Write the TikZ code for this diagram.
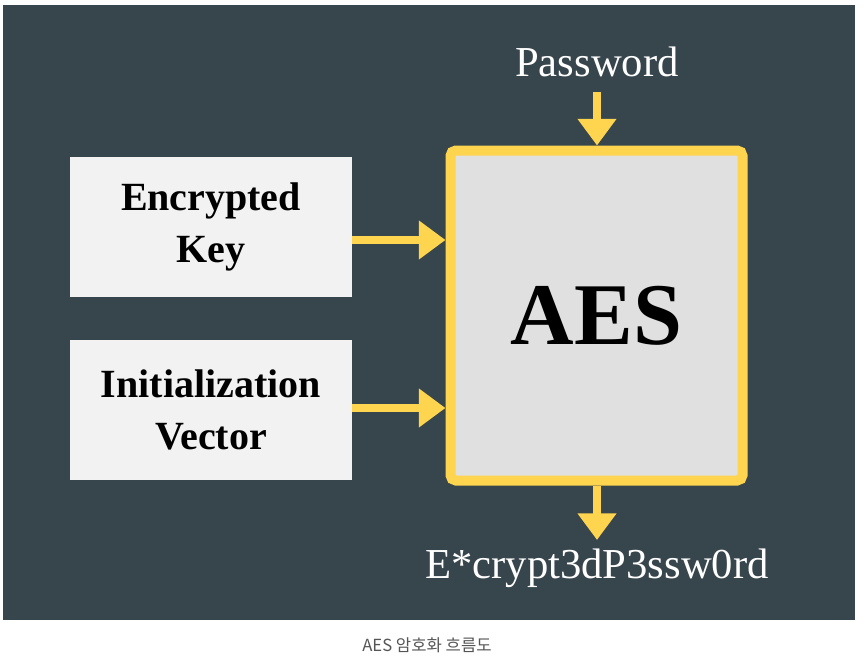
\documentclass[tikz,border=0pt]{standalone}
\usepackage{fontspec}
\setmainfont{Liberation Serif}
\newfontfamily\kor{Noto Sans CJK KR}
\usetikzlibrary{arrows.meta}
\definecolor{bg}{HTML}{37454D}
\definecolor{gold}{HTML}{FFD54F}
\definecolor{lbox}{HTML}{F2F2F2}
\definecolor{abox}{HTML}{E0E0E0}
\definecolor{cap}{HTML}{555555}
\tikzset{
  inbox/.style={fill=lbox,draw=none,align=center,font=\fontsize{30}{39}\selectfont\bfseries},
  flow/.style={gold,line width=6pt,-{Triangle[length=20pt,width=28pt]}},
  wtext/.style={text=white,font=\fontsize{32}{34}\selectfont}
}
\begin{document}
\begin{tikzpicture}[x=0.75pt,y=-0.75pt]
\useasboundingbox (0,0) rectangle (865,671);
\fill[white] (0,0) rectangle (865,671);
\fill[bg] (3,5) rectangle (855,620);
\node[draw=gold,fill=abox,line width=7.5pt,rounded corners=4pt,minimum width=219pt,minimum height=247.5pt,inner sep=0pt,font=\fontsize{66}{68}\selectfont\bfseries] (aes) at (596.5,315.5) {AES};
\node[inbox,minimum width=211.5pt,minimum height=105pt] (ek) at (211,227) {Encrypted\\Key};
\node[inbox,minimum width=211.5pt,minimum height=105pt] (iv) at (211,410) {Initialization\\Vector};
\node[wtext] (pw) at (597,62) {Password};
\node[wtext] (out) at (597,568) {E*crypt3dP3ssw0rd};
\coordinate (pwe) at (597,92);
\coordinate (oute) at (597,540);
\coordinate (eks) at (352,240);
\coordinate (ivs) at (352,408);
\draw[flow] (pwe) -- (aes.north -| pwe);
\draw[flow] (aes.south -| oute) -- (oute);
\draw[flow] (eks) -- (eks -| aes.west);
\draw[flow] (ivs) -- (ivs -| aes.west);
\node[text=cap,font=\kor\fontsize{12.5}{14}\selectfont] (c) at (427,645) {AES 암호화 흐름도};
\end{tikzpicture}
\end{document}
